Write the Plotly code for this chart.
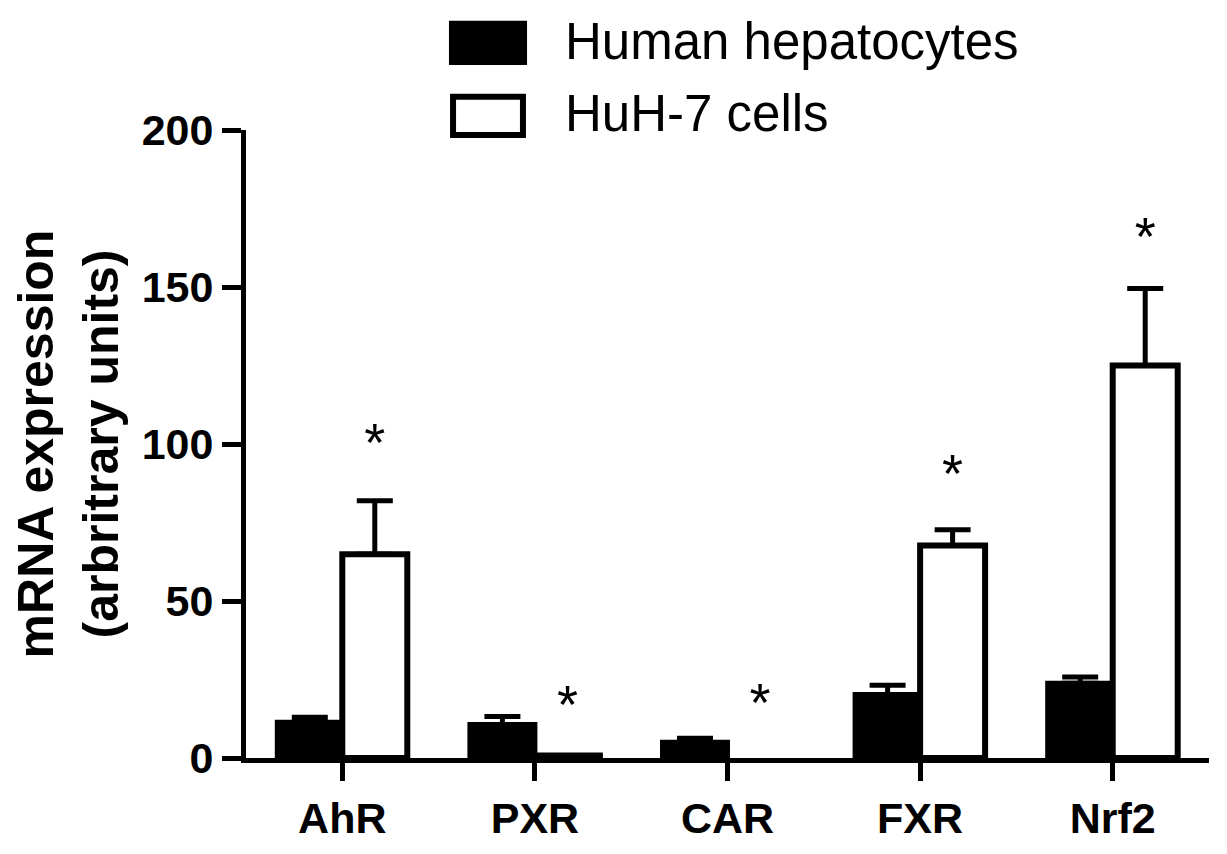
import plotly.graph_objects as go

genes = ["AhR", "PXR", "CAR", "FXR", "Nrf2"]

# mRNA expression (arbitrary units)
hepatocytes = [11.4, 10.7, 5.0, 20.2, 23.8]
hepatocytes_err = [1.6, 2.5, 1.3, 3.0, 2.0]

# CAR is not detectable in HuH-7 cells: no bar drawn
huh7 = [64.9, 0.8, None, 67.7, 125.0]
huh7_err = [17.0, 0.0, 0.0, 5.0, 24.5]

# significance stars above the HuH-7 bars
star_y = [99.0, 15.5, 16.0, 89.0, 164.5]
star_text = ["*", "*", "*", "*", "*"]

FONT = "Liberation Sans"

fig = go.Figure()

fig.add_trace(go.Bar(
    x=genes, y=hepatocytes, name="Human hepatocytes",
    offsetgroup="hep",
    marker=dict(color="black", line=dict(color="black", width=5)),
    error_y=dict(type="data", array=hepatocytes_err, arrayminus=[0] * 5,
                 symmetric=False, color="black", thickness=5, width=18),
    showlegend=False,
))
fig.add_trace(go.Bar(
    x=genes, y=huh7, name="HuH-7 cells",
    offsetgroup="huh",
    marker=dict(color="white", line=dict(color="black", width=6)),
    error_y=dict(type="data", array=huh7_err, arrayminus=[0] * 5,
                 symmetric=False, color="black", thickness=5, width=18),
    showlegend=False,
))

# stars, grouped so they sit over the white bars
fig.add_trace(go.Scatter(
    x=genes, y=[None] * 5, offsetgroup="hep", mode="text",
    text=[""] * 5, showlegend=False, hoverinfo="skip",
))
fig.add_trace(go.Scatter(
    x=genes, y=star_y, offsetgroup="huh", mode="text",
    text=star_text, textposition="middle center",
    textfont=dict(family=FONT, size=54, color="black"),
    cliponaxis=False, showlegend=False, hoverinfo="skip",
))

# legend drawn by hand so the swatches can be large
fig.add_shape(type="rect", xref="paper", yref="paper",
              x0=0.2118, x1=0.2908, y0=1.105, y1=1.1724,
              fillcolor="black", line=dict(color="black", width=2))
fig.add_shape(type="rect", xref="paper", yref="paper",
              x0=0.215, x1=0.2876, y0=0.992, y1=1.053,
              fillcolor="white", line=dict(color="black", width=6))
fig.add_annotation(x=0.329, y=1.141, xref="paper", yref="paper",
                   text="Human hepatocytes", showarrow=False,
                   xanchor="left", yanchor="middle",
                   font=dict(family=FONT, size=51, color="black"))
fig.add_annotation(x=0.329, y=1.0266, xref="paper", yref="paper",
                   text="HuH-7 cells", showarrow=False,
                   xanchor="left", yanchor="middle",
                   font=dict(family=FONT, size=51, color="black"))

# page body has an 8px margin: figure starts at (8, 8)
fig.update_layout(
    width=1219, height=846,
    margin=dict(l=238, r=18, t=122, b=86),
    paper_bgcolor="white", plot_bgcolor="white",
    barmode="group", bargap=0.325, bargroupgap=0,
    scattermode="group",
    font=dict(family=FONT, color="black"),
)

fig.update_xaxes(
    showline=True, linewidth=5, linecolor="black",
    ticks="outside", ticklen=18, tickwidth=5, tickcolor="black",
    tickfont=dict(family=FONT, size=43, weight="bold", color="black"),
    showgrid=False, zeroline=False,
)
fig.update_yaxes(
    range=[0, 200], tick0=0, dtick=50,
    showline=True, linewidth=5, linecolor="black",
    ticks="outside", ticklen=19, tickwidth=5, tickcolor="black",
    tickfont=dict(family=FONT, size=43, weight="bold", color="black"),
    showgrid=False, zeroline=False,
    title=dict(text="mRNA expression<br>(arbritrary units)", standoff=20,
               font=dict(family=FONT, size=50, weight="bold", color="black")),
)

fig.write_html("out.html")
